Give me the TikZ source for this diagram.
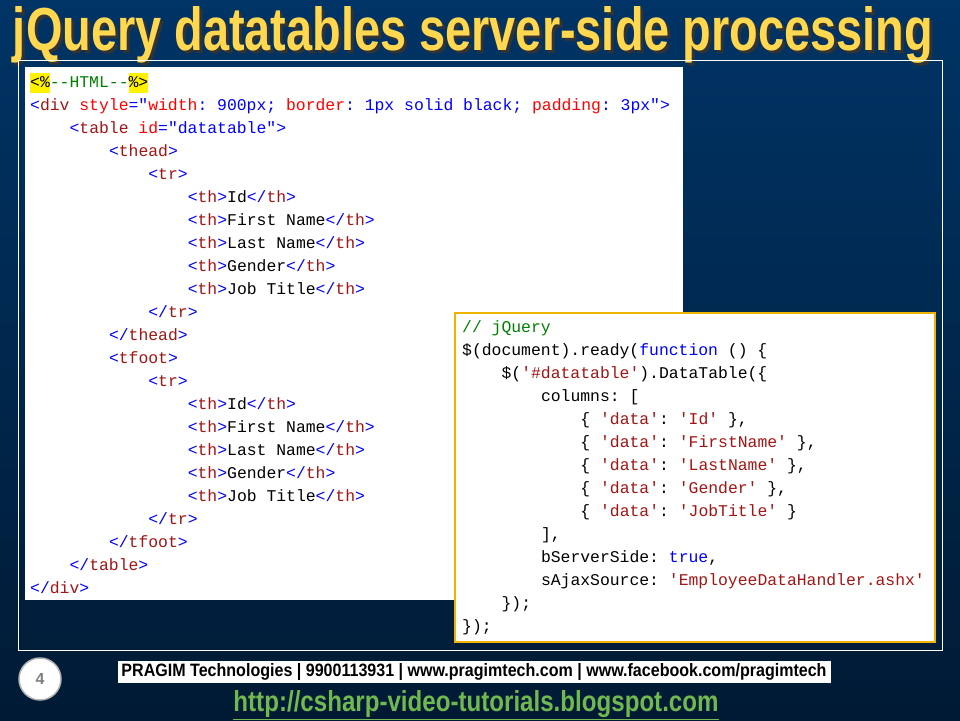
\documentclass[tikz,border=0pt]{standalone}
\usepackage{fontspec}
\setmainfont{Liberation Sans}
\setmonofont{Liberation Mono}
\usepackage{graphicx}
\definecolor{slideTop}{RGB}{0,52,102}
\definecolor{slideBottom}{RGB}{0,26,52}
\definecolor{titleYellow}{RGB}{255,216,80}
\definecolor{boxYellow}{RGB}{240,180,0}
\definecolor{tagBlue}{RGB}{0,0,255}
\definecolor{tagMaroon}{RGB}{163,21,21}
\definecolor{attrRed}{RGB}{255,0,0}
\definecolor{commentGreen}{RGB}{0,128,0}
\definecolor{linkGreen}{RGB}{112,184,80}
\newcommand{\cb}[1]{\textcolor{tagBlue}{#1}}
\newcommand{\cm}[1]{\textcolor{tagMaroon}{#1}}
\newcommand{\cred}[1]{\textcolor{attrRed}{#1}}
\newcommand{\cgr}[1]{\textcolor{commentGreen}{#1}}
\newcommand{\tg}[1]{\cb{<}\cm{#1}\cb{>}}
\newcommand{\etg}[1]{\cb{</}\cm{#1}\cb{>}}
\newcommand{\hl}[1]{{\setlength\fboxsep{0pt}\colorbox{yellow}{\strut #1}}}
\newcommand{\thl}[1]{\tg{th}#1\etg{th}}
\newcommand{\dat}[1]{\{ \cm{'data'}: \cm{'#1'} \},}

\begin{document}
\begin{tikzpicture}[x=1pt,y=-1pt,
  codeln/.style={anchor=base west,inner sep=0pt,font=\ttfamily\fontsize{16.4}{20}\selectfont}]
\useasboundingbox (0,0) rectangle (960,720);
\shade[top color=slideTop,bottom color=slideBottom] (0,0) rectangle (960,720);

% title and frame
\node[text=black!80] at (476,38) {\resizebox{920pt}{44pt}{\bfseries jQuery datatables server-side processing}};
\node[text=titleYellow] (title) at (473,35) {\resizebox{920pt}{44pt}{\bfseries jQuery datatables server-side processing}};
\draw[white] (18,60) rectangle (942,650);
\fill[white] (25,67) rectangle (683,600);

% HTML code
\def\ind{39.4}
\node[codeln] (h0) at (30,87) {\hl{<\%}\cgr{--HTML--}\hl{\%>}};
\node[codeln] (h1) at (30,110) {\cb{<}\cm{div} \cred{style}\cb{="}\cred{width}\cb{: 900px; }\cred{border}\cb{: 1px solid black; }\cred{padding}\cb{: 3px"}\cb{>}};
\node[codeln] (h2) at (30+\ind,133) {\cb{<}\cm{table} \cred{id}\cb{="datatable">}};
\node[codeln] (h3) at (30+2*\ind,156) {\tg{thead}};
\node[codeln] (h4) at (30+3*\ind,179) {\tg{tr}};
\node[codeln] (h5) at (30+4*\ind,202) {\thl{Id}};
\node[codeln] (h6) at (30+4*\ind,225) {\thl{First Name}};
\node[codeln] (h7) at (30+4*\ind,248) {\thl{Last Name}};
\node[codeln] (h8) at (30+4*\ind,271) {\thl{Gender}};
\node[codeln] (h9) at (30+4*\ind,294) {\thl{Job Title}};
\node[codeln] (h10) at (30+3*\ind,317) {\etg{tr}};
\node[codeln] (h11) at (30+2*\ind,340) {\etg{thead}};
\node[codeln] (h12) at (30+2*\ind,363) {\tg{tfoot}};
\node[codeln] (h13) at (30+3*\ind,386) {\tg{tr}};
\node[codeln] (h14) at (30+4*\ind,409) {\thl{Id}};
\node[codeln] (h15) at (30+4*\ind,432) {\thl{First Name}};
\node[codeln] (h16) at (30+4*\ind,455) {\thl{Last Name}};
\node[codeln] (h17) at (30+4*\ind,478) {\thl{Gender}};
\node[codeln] (h18) at (30+4*\ind,501) {\thl{Job Title}};
\node[codeln] (h19) at (30+3*\ind,524) {\etg{tr}};
\node[codeln] (h20) at (30+2*\ind,547) {\etg{tfoot}};
\node[codeln] (h21) at (30+\ind,570) {\etg{table}};
\node[codeln] (h22) at (30,593) {\etg{div}};

% jQuery code
\draw[boxYellow,line width=2pt,fill=white] (455,313) rectangle (935,642);
\node[codeln] (j0) at (462,332) {\cgr{// jQuery}};
\node[codeln] (j1) at (462,355) {\$(document).ready(\cb{function} () \{};
\node[codeln] (j2) at (462+\ind,378) {\$(\cm{'\#datatable'}).DataTable(\{};
\node[codeln] (j3) at (462+2*\ind,401) {columns: [};
\node[codeln] (j4) at (462+3*\ind,424) {\dat{Id}};
\node[codeln] (j5) at (462+3*\ind,447) {\dat{FirstName}};
\node[codeln] (j6) at (462+3*\ind,470) {\dat{LastName}};
\node[codeln] (j7) at (462+3*\ind,493) {\dat{Gender}};
\node[codeln] (j8) at (462+3*\ind,516) {\{ \cm{'data'}: \cm{'JobTitle'} \}};
\node[codeln] (j9) at (462+2*\ind,539) {],};
\node[codeln] (j10) at (462+2*\ind,562) {bServerSide: \cb{true},};
\node[codeln] (j11) at (462+2*\ind,585) {sAjaxSource: \cm{'EmployeeDataHandler.ashx'}};
\node[codeln] (j12) at (462+\ind,608) {\});};
\node[codeln] (j13) at (462,631) {\});};

% footer
\node[circle,draw=gray!60,line width=1.5pt,fill=white,minimum size=42pt,text=gray,font=\fontsize{16}{18}\selectfont\bfseries] (page) at (40,679) {4};
\node[fill=white,inner sep=0pt,minimum width=713pt,minimum height=22pt] (info) at (474,672) {\resizebox{705pt}{13pt}{\bfseries PRAGIM Technologies | 9900113931 | www.pragimtech.com | www.facebook.com/pragimtech}};
\node[text=linkGreen,inner sep=0pt] (link) at (476,704) {\resizebox{485pt}{21pt}{\bfseries http://csharp-video-tutorials.blogspot.com}};
\draw[linkGreen,line width=1.2pt] ([yshift=-2pt]link.south west) -- ([yshift=-2pt]link.south east);
\end{tikzpicture}
\end{document}
